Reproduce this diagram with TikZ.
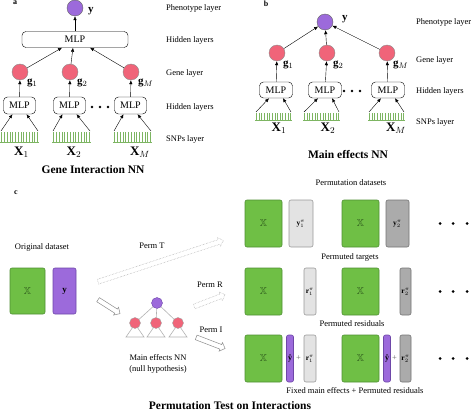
\documentclass[tikz,border=0pt]{standalone}
\usepackage{fontspec}
\setmainfont{Liberation Serif}
\usepackage{amssymb}
\usetikzlibrary{arrows.meta,shapes.arrows}

\definecolor{phenopurple}{HTML}{9C6ADB}
\definecolor{phenoline}{HTML}{6E47A8}
\definecolor{genepink}{HTML}{F06479}
\definecolor{snpgreen}{HTML}{7DB562}
\definecolor{xgreen}{HTML}{6FBF45}
\definecolor{xgreenline}{HTML}{4F8F33}
\definecolor{xtext}{HTML}{2E5A1C}
\definecolor{lightres}{HTML}{E3E3E3}
\definecolor{darkres}{HTML}{ABABAB}

\tikzset{
  pheno/.style={circle, draw=black!60, fill=phenopurple, minimum size=16pt, inner sep=0pt},
  gene/.style={circle, draw=black!45, fill=genepink, minimum size=16pt, inner sep=0pt},
  mlpbox/.style={draw, rounded corners=4pt, minimum width=32pt, minimum height=17pt, inner sep=0pt, font=\fontsize{10}{12}\selectfont},
  layerlabel/.style={anchor=west, inner sep=0pt, font=\fontsize{8.5}{10}\selectfont},
  plain/.style={inner sep=0pt, align=center, font=\fontsize{8.5}{10.5}\selectfont},
  varlabel/.style={anchor=west, inner sep=0pt, font=\fontsize{11}{13}\selectfont},
  snplabel/.style={inner sep=0pt, font=\fontsize{13}{15}\selectfont},
  titlelabel/.style={inner sep=0pt, font=\fontsize{11.5}{14}\bfseries},
  panellabel/.style={inner sep=0pt, font=\fontsize{8}{10}\bfseries},
  snp/.style={draw=snpgreen, line width=0.5pt},
  dot/.style={circle, fill=black, inner sep=0pt, minimum size=2.6pt},
  databox/.style={draw, rounded corners=2pt, minimum height=47pt, inner sep=0pt, line width=0.6pt},
  xbox/.style={databox, fill=xgreen, draw=xgreenline, minimum width=37pt, text=xtext, font=\fontsize{10}{12}\selectfont},
  ybox/.style={databox, fill=phenopurple, draw=phenoline, minimum width=23pt, font=\fontsize{9}{11}\selectfont},
  lightbox/.style={databox, fill=lightres, draw=black!40, font=\fontsize{7.5}{9}\selectfont},
  darkbox/.style={databox, fill=darkres, draw=black!55, font=\fontsize{7.5}{9}\selectfont},
  minipheno/.style={circle, draw=phenoline, fill=phenopurple, minimum size=11pt, inner sep=0pt},
  minigene/.style={circle, draw=black!35, fill=genepink, minimum size=11pt, inner sep=0pt},
  perm/.style={single arrow, draw=black!45, fill=white, minimum width=9pt, single arrow head extend=2.2pt, inner sep=2.2pt, line width=0.5pt},
}

\begin{document}
\begin{tikzpicture}[x=1pt,y=-1pt,>={Latex[length=4pt,width=3.4pt]}]
  \useasboundingbox (0,0) rectangle (474,412);
  % panel letters
  \node[panellabel] (laba) at (15,3) {a};
  \node[panellabel] (labb) at (266,4) {b};
  \node[panellabel] (labc) at (16,193) {c};

  % ---- a: gene interaction NN
  \node[pheno] (ya) at (75,8) {};
  \node[varlabel] (yalab) at (88,11) {\textbf{y}};
  \node[mlpbox, minimum width=106pt, minimum height=16pt] (mlpa) at (75,39.5) {MLP};
  \draw[->] (mlpa) -- (ya);
  \foreach \i/\gx/\sub in {1/20/1,2/70/2,3/131/M}{
    \node[gene] (ga\i) at (\gx,72) {};
    \node[varlabel] (galab\i) at (\gx+7,83) {\textbf{g}$_\sub$};
    \node[mlpbox] (ma\i) at (\gx-0.5,105.5) {MLP};
    \draw[->] (ma\i) -- (ga\i);
  }
  \draw[->] (ga1) -- ([xshift=-13pt]mlpa.south);
  \draw[->] (ga2) -- ([xshift=-2pt]mlpa.south);
  \draw[->] (ga3) -- ([xshift=15pt]mlpa.south);
  \foreach \dx in {92,100,108} \node[dot] at (\dx,107) {};
  % SNPs
  \foreach \i/\cl in {1/0,2/52,3/113}{
    \draw[snp] (\cl,142) -- ++(39,0);
    \foreach \t in {0,...,13} \draw[snp] (\cl+1.5+\t*2.77,132) -- ++(0,10);
    \coordinate (sa\i l) at (\cl+1,131);
    \coordinate (sa\i r) at (\cl+38,131);
    \draw[->] (sa\i l) -- ([xshift=-7pt]ma\i.south);
    \draw[->] (sa\i r) -- ([xshift=7pt]ma\i.south);
  }
  \node[snplabel] (xa1) at (21.5,152) {\textbf{X}$_1$};
  \node[snplabel] (xa2) at (74,152) {\textbf{X}$_2$};
  \node[snplabel] (xa3) at (140,152) {\textbf{X}$_M$};
  \node[titlelabel] (tita) at (93,170) {Gene Interaction NN};
  % layer names
  \node[layerlabel] at (166,8) {Phenotype layer};
  \node[layerlabel] at (166,40) {Hidden layers};
  \node[layerlabel] at (166,73) {Gene layer};
  \node[layerlabel] at (166,107) {Hidden layers};
  \node[layerlabel] at (166,139) {SNPs layer};

  % ---- b: main effects NN
  \node[pheno] (yb) at (325,22) {};
  \node[varlabel] (yblab) at (342,19) {\textbf{y}};
  \foreach \i/\gx/\mx/\sub in {1/277/276/1,2/327/325/2,3/387/388/M}{
    \node[gene] (gb\i) at (\gx,53) {};
    \node[varlabel] (gblab\i) at (\gx+6,65) {\textbf{g}$_\sub$};
    \node[mlpbox, minimum width=33pt, minimum height=16pt] (mb\i) at (\mx,90) {MLP};
    \draw[->] (mb\i) -- (gb\i);
    \draw[->] (gb\i) -- (yb);
  }
  \foreach \dx in {344,352,360} \node[dot] at (\dx,91) {};
  \foreach \i/\cl in {1/255,2/303,3/368}{
    \draw[snp] (\cl,120) -- ++(37,0);
    \foreach \t in {0,...,13} \draw[snp] (\cl+1.5+\t*2.62,113) -- ++(0,7);
    \coordinate (sb\i l) at (\cl+1,112);
    \coordinate (sb\i r) at (\cl+36,112);
    \draw[->] (sb\i l) -- ([xshift=-7pt]mb\i.south);
    \draw[->] (sb\i r) -- ([xshift=7pt]mb\i.south);
  }
  \node[snplabel] (xb1) at (279,128) {\textbf{X}$_1$};
  \node[snplabel] (xb2) at (328,128) {\textbf{X}$_2$};
  \node[snplabel] (xb3) at (396,128) {\textbf{X}$_M$};
  \node[titlelabel] (titb) at (348,155) {Main effects NN};
  \node[layerlabel] at (416,22) {Phenotype layer};
  \node[layerlabel] at (416,60) {Gene layer};
  \node[layerlabel] at (416,91) {Hidden layers};
  \node[layerlabel] at (416,122) {SNPs layer};

  % ---- c: permutation test
  \node[plain] (orig) at (42,247) {Original dataset};
  \node[xbox, minimum width=35pt, minimum height=46pt] (xorig) at (27.5,291) {$\mathbb{X}$};
  \node[ybox, minimum height=46pt] (yorig) at (64.5,291) {\textbf{y}};
  % null model
  \foreach \i/\gx in {1/135,2/156,3/178}{
    \draw[black!30, line width=0.6pt] (\gx,324) -- (\gx-9,337) -- (\gx+9,337) -- cycle;
  }
  \node[minipheno] (np) at (157,303) {};
  \foreach \i/\gx in {1/135,2/156,3/178}{
    \node[minigene] (ng\i) at (\gx,323) {};
    \draw[black!30, line width=0.6pt] (np) -- (ng\i);
  }
  \node[plain] (nulllab) at (158,364) {Main effects NN\\(null hypothesis)};
  % arrows
  \node[perm, minimum height=26pt, rotate=-32.5] (toNN) at (108,306) {};
  \node[perm, densely dotted, draw=black!35, minimum height=132pt, rotate=18.2] (permT) at (159.5,261.5) {};
  \node[perm, densely dotted, draw=black!35, minimum height=33pt, rotate=21] (permR) at (208.5,301) {};
  \node[perm, minimum height=31pt, rotate=-21] (permI) at (209.5,342.5) {};
  \node[plain] (labT) at (152,246) {Perm T};
  \node[plain] (labR) at (210,285) {Perm R};
  \node[plain] (labI) at (211,330) {Perm I};
  % permutation datasets
  \node[plain] (permset) at (351,183) {Permutation datasets};
  % targets
  \node[xbox] (xt1) at (263.5,223.5) {$\mathbb{X}$};
  \node[lightbox, minimum width=24pt] (yt1) at (301,223.5) {\textbf{y}$_1^\pi$};
  \node[xbox] (xt2) at (360.5,223.5) {$\mathbb{X}$};
  \node[darkbox, minimum width=23pt] (yt2) at (397.5,223.5) {\textbf{y}$_2^\pi$};
  \node[plain] (labtarg) at (350,257) {Permuted targets};
  % residuals
  \node[xbox] (xr1) at (263.5,291.5) {$\mathbb{X}$};
  \node[lightbox, minimum width=12pt] (rr1) at (310,291.5) {\textbf{r}$_1^\pi$};
  \node[xbox] (xr2) at (360.5,291.5) {$\mathbb{X}$};
  \node[darkbox, minimum width=11pt] (rr2) at (405.5,291.5) {\textbf{r}$_2^\pi$};
  \node[plain] (labres) at (352,324) {Permuted residuals};
  % fixed main effects
  \node[xbox] (xi1) at (263.5,358.5) {$\mathbb{X}$};
  \node[ybox, minimum width=7pt, font=\fontsize{8}{10}\selectfont] (yi1) at (290,358.5) {\textbf{ŷ}};
  \node[plain, text=black!60] (plus1) at (298.5,358.5) {+};
  \node[lightbox, minimum width=12pt] (ri1) at (310,358.5) {\textbf{r}$_1^\pi$};
  \node[xbox] (xi2) at (360.5,358.5) {$\mathbb{X}$};
  \node[ybox, minimum width=7pt, font=\fontsize{8}{10}\selectfont] (yi2) at (387,358.5) {\textbf{ŷ}};
  \node[plain, text=black!60] (plus2) at (394.5,358.5) {+};
  \node[darkbox, minimum width=11pt] (ri2) at (405.5,358.5) {\textbf{r}$_2^\pi$};
  \node[plain] (labfix) at (355,391) {Fixed main effects + Permuted residuals};
  % more datasets
  \foreach \ry in {223.5,291.5,358.5}
    \foreach \dx in {440,453,467} \node[dot, minimum size=3pt] at (\dx,\ry) {};
  \node[titlelabel] (titc) at (230,406) {Permutation Test on Interactions};
\end{tikzpicture}
\end{document}
